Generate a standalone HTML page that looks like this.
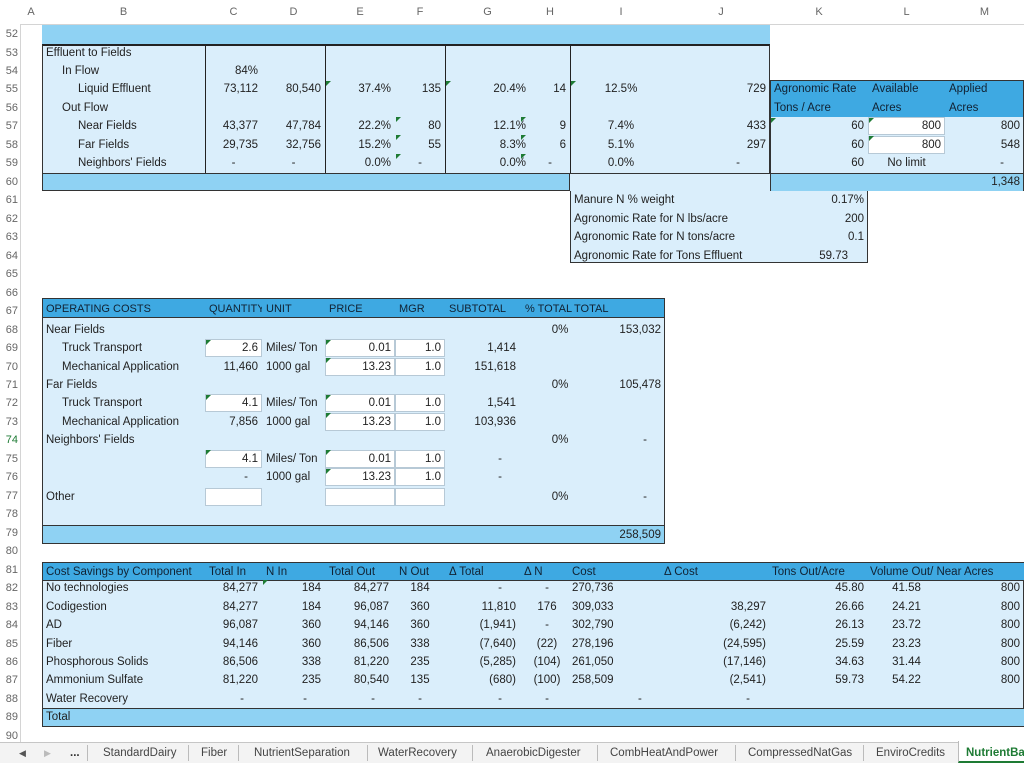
<!DOCTYPE html>
<html><head><meta charset="utf-8"><style>
*{margin:0;padding:0;box-sizing:border-box}
body{width:1024px;height:763px;overflow:hidden;background:#fff;font-family:"Liberation Sans",Arial,sans-serif;font-size:11.5px;color:#222;position:relative}
.a{position:absolute}
.c{position:absolute;height:18px;line-height:18px;white-space:nowrap;overflow:hidden;padding:0 4px}
.R{text-align:right}.C{text-align:center}
.hd{color:#666;text-align:center;font-size:11px;line-height:25px;top:0;height:25px}
.rn{left:0;width:20px;color:#666;font-size:11px;text-align:right;padding-right:2px;height:18px;line-height:18px}
.w{position:absolute;background:#fff;border:1px solid #b7c9d6;height:18px}
.lb{background:#daeefb}
.bar{background:#8fd2f3}
.hb{background:#3ea9e2}
.vl{position:absolute;width:1px;background:#222}
.tri{position:absolute;width:0;height:0;border-top:5px solid #1e7b34;border-right:5px solid transparent}
</style></head><body>
<!-- column headers -->
<div class="a" style="left:0;top:0;width:1024px;height:25px;border-bottom:1px solid #d4d4d4"></div>
<div class="a" style="left:0;top:0;width:20px;height:25px;background:#fff"></div>
<div class="c hd" style="left:20px;width:22px">A</div>
<div class="c hd" style="left:42px;width:163px">B</div>
<div class="c hd" style="left:205px;width:57px">C</div>
<div class="c hd" style="left:262px;width:63px">D</div>
<div class="c hd" style="left:325px;width:70px">E</div>
<div class="c hd" style="left:395px;width:50px">F</div>
<div class="c hd" style="left:445px;width:85px">G</div>
<div class="c hd" style="left:530px;width:40px">H</div>
<div class="c hd" style="left:570px;width:102px">I</div>
<div class="c hd" style="left:672px;width:98px">J</div>
<div class="c hd" style="left:770px;width:98px">K</div>
<div class="c hd" style="left:868px;width:77px">L</div>
<div class="c hd" style="left:945px;width:79px">M</div>
<div class="a" style="left:20px;top:25px;width:1px;height:717px;background:#d4d4d4"></div>
<!-- row numbers -->
<div class="c rn" style="top:25px">52</div><div class="c rn" style="top:43.5px">53</div><div class="c rn" style="top:62px">54</div><div class="c rn" style="top:80.4px">55</div><div class="c rn" style="top:99px">56</div><div class="c rn" style="top:117.4px">57</div><div class="c rn" style="top:135.8px">58</div><div class="c rn" style="top:154.3px">59</div><div class="c rn" style="top:172.8px">60</div><div class="c rn" style="top:191.2px">61</div><div class="c rn" style="top:209.7px">62</div><div class="c rn" style="top:228.2px">63</div><div class="c rn" style="top:246.6px">64</div><div class="c rn" style="top:265.1px">65</div><div class="c rn" style="top:283.6px">66</div><div class="c rn" style="top:302.1px">67</div><div class="c rn" style="top:320.5px">68</div><div class="c rn" style="top:339px">69</div><div class="c rn" style="top:357.5px">70</div><div class="c rn" style="top:375.9px">71</div><div class="c rn" style="top:394.4px">72</div><div class="c rn" style="top:412.9px">73</div><div class="c rn" style="top:431.3px;color:#1e7b34">74</div><div class="c rn" style="top:449.8px">75</div><div class="c rn" style="top:468.3px">76</div><div class="c rn" style="top:486.8px">77</div><div class="c rn" style="top:505.2px">78</div><div class="c rn" style="top:523.7px">79</div><div class="c rn" style="top:542.2px">80</div><div class="c rn" style="top:560.6px">81</div><div class="c rn" style="top:579.1px">82</div><div class="c rn" style="top:597.6px">83</div><div class="c rn" style="top:616px">84</div><div class="c rn" style="top:634.5px">85</div><div class="c rn" style="top:653px">86</div><div class="c rn" style="top:671.4px">87</div><div class="c rn" style="top:689.9px">88</div><div class="c rn" style="top:708.4px">89</div><div class="c rn" style="top:726.9px">90</div>

<!-- BLOCK 1 -->
<div class="a bar" style="left:42px;top:25px;width:728px;height:18.5px"></div>
<div class="a lb" style="left:42px;top:43.5px;width:728px;height:129.3px;border-top:2px solid #222;border-left:1px solid #333;border-right:1px solid #333"></div>
<div class="a bar" style="left:42px;top:172.8px;width:528px;height:18.4px;border:1px solid #333;border-top:1px solid #333"></div>
<div class="vl" style="left:205px;top:44px;height:129px"></div>
<div class="vl" style="left:325px;top:44px;height:129px"></div>
<div class="vl" style="left:445px;top:44px;height:129px"></div>
<div class="vl" style="left:570px;top:44px;height:218px"></div>
<!-- manure box -->
<div class="a lb" style="left:570px;top:172.8px;width:298px;height:90px;border:1px solid #333;border-top:none"></div>
<div class="a lb" style="left:570px;top:172.8px;width:200px;height:18.4px;border-top:1px solid #333"></div>
<!-- K-M block -->
<div class="a lb" style="left:770px;top:80.4px;width:254px;height:111px;border:1px solid #333"></div>
<div class="a hb" style="left:771px;top:81px;width:252px;height:36px"></div>
<div class="a bar" style="left:771px;top:172.8px;width:252px;height:18px;border-top:1px solid #333"></div>
<div class="w" style="left:868px;top:117.4px;width:77px"></div>
<div class="w" style="left:868px;top:135.8px;width:77px"></div>

<div class="c" style="left:42px;top:43.5px;width:163px">Effluent to Fields</div>
<div class="c" style="left:58px;top:62px;width:147px">In Flow</div>
<div class="c" style="left:74px;top:80.4px;width:131px">Liquid Effluent</div>
<div class="c" style="left:58px;top:99px;width:147px">Out Flow</div>
<div class="c" style="left:74px;top:117.4px;width:131px">Near Fields</div>
<div class="c" style="left:74px;top:135.8px;width:131px">Far Fields</div>
<div class="c" style="left:74px;top:154.3px;width:131px">Neighbors' Fields</div>

<div class="c R" style="left:205px;top:62px;width:57px">84%</div>
<div class="c R" style="left:205px;top:80.4px;width:57px">73,112</div>
<div class="c R" style="left:205px;top:117.4px;width:57px">43,377</div>
<div class="c R" style="left:205px;top:135.8px;width:57px">29,735</div>
<div class="c C" style="left:205px;top:154.3px;width:57px">-</div>
<div class="c R" style="left:262px;top:80.4px;width:63px">80,540</div>
<div class="c R" style="left:262px;top:117.4px;width:63px">47,784</div>
<div class="c R" style="left:262px;top:135.8px;width:63px">32,756</div>
<div class="c C" style="left:262px;top:154.3px;width:63px">-</div>

<div class="c R" style="left:325px;top:80.4px;width:70px">37.4%</div>
<div class="c R" style="left:325px;top:117.4px;width:70px">22.2%</div>
<div class="c R" style="left:325px;top:135.8px;width:70px">15.2%</div>
<div class="c R" style="left:325px;top:154.3px;width:70px">0.0%</div>
<div class="c R" style="left:395px;top:80.4px;width:50px">135</div>
<div class="c R" style="left:395px;top:117.4px;width:50px">80</div>
<div class="c R" style="left:395px;top:135.8px;width:50px">55</div>
<div class="c C" style="left:395px;top:154.3px;width:50px">-</div>
<div class="c R" style="left:445px;top:80.4px;width:85px">20.4%</div>
<div class="c R" style="left:445px;top:117.4px;width:85px">12.1%</div>
<div class="c R" style="left:445px;top:135.8px;width:85px">8.3%</div>
<div class="c R" style="left:445px;top:154.3px;width:85px">0.0%</div>
<div class="c R" style="left:530px;top:80.4px;width:40px">14</div>
<div class="c R" style="left:530px;top:117.4px;width:40px">9</div>
<div class="c R" style="left:530px;top:135.8px;width:40px">6</div>
<div class="c C" style="left:530px;top:154.3px;width:40px">-</div>
<div class="c C" style="left:570px;top:80.4px;width:102px">12.5%</div>
<div class="c C" style="left:570px;top:117.4px;width:102px">7.4%</div>
<div class="c C" style="left:570px;top:135.8px;width:102px">5.1%</div>
<div class="c C" style="left:570px;top:154.3px;width:102px">0.0%</div>
<div class="c R" style="left:672px;top:80.4px;width:98px">729</div>
<div class="c R" style="left:672px;top:117.4px;width:98px">433</div>
<div class="c R" style="left:672px;top:135.8px;width:98px">297</div>
<div class="c R" style="left:672px;top:154.3px;width:98px;padding-right:30px">-</div>

<div class="c" style="left:770px;top:80.4px;width:98px;color:#123">Agronomic Rate</div>
<div class="c" style="left:770px;top:99px;width:98px;color:#123">Tons / Acre</div>
<div class="c" style="left:868px;top:80.4px;width:77px;color:#123">Available</div>
<div class="c" style="left:868px;top:99px;width:77px;color:#123">Acres</div>
<div class="c" style="left:945px;top:80.4px;width:79px;color:#123">Applied</div>
<div class="c" style="left:945px;top:99px;width:79px;color:#123">Acres</div>
<div class="c R" style="left:770px;top:117.4px;width:98px">60</div>
<div class="c R" style="left:770px;top:135.8px;width:98px">60</div>
<div class="c R" style="left:770px;top:154.3px;width:98px">60</div>
<div class="c R" style="left:868px;top:117.4px;width:77px">800</div>
<div class="c R" style="left:868px;top:135.8px;width:77px">800</div>
<div class="c C" style="left:868px;top:154.3px;width:77px">No limit</div>
<div class="c R" style="left:945px;top:117.4px;width:79px">800</div>
<div class="c R" style="left:945px;top:135.8px;width:79px">548</div>
<div class="c R" style="left:945px;top:154.3px;width:79px;padding-right:20px">-</div>
<div class="c R" style="left:945px;top:172.8px;width:79px">1,348</div>

<div class="c" style="left:570px;top:191.2px;width:200px">Manure N % weight</div>
<div class="c" style="left:570px;top:209.7px;width:200px">Agronomic Rate for N lbs/acre</div>
<div class="c" style="left:570px;top:228.2px;width:200px">Agronomic Rate for N tons/acre</div>
<div class="c" style="left:570px;top:246.6px;width:200px">Agronomic Rate for Tons Effluent</div>
<div class="c R" style="left:770px;top:191.2px;width:98px">0.17%</div>
<div class="c R" style="left:770px;top:209.7px;width:98px">200</div>
<div class="c R" style="left:770px;top:228.2px;width:98px">0.1</div>
<div class="c R" style="left:770px;top:246.6px;width:98px;padding-right:20px">59.73</div>

<div class="tri" style="left:326px;top:81px"></div><div class="tri" style="left:446px;top:81px"></div><div class="tri" style="left:571px;top:81px"></div>
<div class="tri" style="left:771px;top:118px"></div><div class="tri" style="left:869px;top:118px"></div><div class="tri" style="left:869px;top:136px"></div>
<div class="tri" style="left:396px;top:117px"></div><div class="tri" style="left:396px;top:135px"></div><div class="tri" style="left:396px;top:154px"></div>
<div class="tri" style="left:521px;top:117px"></div><div class="tri" style="left:521px;top:135px"></div><div class="tri" style="left:521px;top:154px"></div>

<!-- BLOCK 2 -->
<div class="a lb" style="left:42px;top:298px;width:623px;height:246px;border:1px solid #333"></div>
<div class="a hb" style="left:43px;top:299px;width:621px;height:19px;border-bottom:1px solid #333"></div>
<div class="a bar" style="left:43px;top:525px;width:621px;height:18px;border-top:1.5px solid #333"></div>
<div class="c" style="left:42px;top:300px;width:163px;font-size:11px;color:#123">OPERATING COSTS</div>
<div class="c" style="left:205px;top:300px;width:57px;font-size:11px;color:#123">QUANTITY</div>
<div class="c" style="left:262px;top:300px;width:63px;font-size:11px;color:#123">UNIT</div>
<div class="c" style="left:325px;top:300px;width:70px;font-size:11px;color:#123">PRICE</div>
<div class="c" style="left:395px;top:300px;width:50px;font-size:11px;color:#123">MGR</div>
<div class="c" style="left:445px;top:300px;width:80px;font-size:11px;color:#123">SUBTOTAL</div>
<div class="c" style="left:521px;top:300px;width:52px;font-size:11px;color:#123">% TOTAL</div>
<div class="c" style="left:570px;top:300px;width:60px;font-size:11px;color:#123">TOTAL</div>

<div class="w" style="left:205px;top:339px;width:57px"></div><div class="w" style="left:325px;top:339px;width:70px"></div><div class="w" style="left:395px;top:339px;width:50px"></div>
<div class="w" style="left:325px;top:357.5px;width:70px"></div><div class="w" style="left:395px;top:357.5px;width:50px"></div>
<div class="w" style="left:205px;top:394.4px;width:57px"></div><div class="w" style="left:325px;top:394.4px;width:70px"></div><div class="w" style="left:395px;top:394.4px;width:50px"></div>
<div class="w" style="left:325px;top:412.9px;width:70px"></div><div class="w" style="left:395px;top:412.9px;width:50px"></div>
<div class="w" style="left:205px;top:449.8px;width:57px"></div><div class="w" style="left:325px;top:449.8px;width:70px"></div><div class="w" style="left:395px;top:449.8px;width:50px"></div>
<div class="w" style="left:325px;top:468.3px;width:70px"></div><div class="w" style="left:395px;top:468.3px;width:50px"></div>
<div class="w" style="left:205px;top:488px;width:57px"></div><div class="w" style="left:325px;top:488px;width:70px"></div><div class="w" style="left:395px;top:488px;width:50px"></div>
<div class="tri" style="left:206px;top:340px"></div><div class="tri" style="left:326px;top:340px"></div><div class="tri" style="left:326px;top:358px"></div>
<div class="tri" style="left:206px;top:395px"></div><div class="tri" style="left:326px;top:395px"></div><div class="tri" style="left:326px;top:413px"></div>
<div class="tri" style="left:206px;top:450px"></div><div class="tri" style="left:326px;top:450px"></div><div class="tri" style="left:326px;top:469px"></div>

<div class="c" style="left:42px;top:320.5px;width:163px">Near Fields</div>
<div class="c" style="left:58px;top:339px;width:147px">Truck Transport</div>
<div class="c" style="left:58px;top:357.5px;width:147px">Mechanical Application</div>
<div class="c" style="left:42px;top:375.9px;width:163px">Far Fields</div>
<div class="c" style="left:58px;top:394.4px;width:147px">Truck Transport</div>
<div class="c" style="left:58px;top:412.9px;width:147px">Mechanical Application</div>
<div class="c" style="left:42px;top:431.3px;width:163px">Neighbors' Fields</div>
<div class="c" style="left:42px;top:488px;width:163px">Other</div>

<div class="c R" style="left:205px;top:339px;width:57px">2.6</div>
<div class="c R" style="left:205px;top:357.5px;width:57px">11,460</div>
<div class="c R" style="left:205px;top:394.4px;width:57px">4.1</div>
<div class="c R" style="left:205px;top:412.9px;width:57px">7,856</div>
<div class="c R" style="left:205px;top:449.8px;width:57px">4.1</div>
<div class="c R" style="left:205px;top:468.3px;width:57px;padding-right:14px">-</div>
<div class="c" style="left:262px;top:339px;width:63px">Miles/ Ton</div>
<div class="c" style="left:262px;top:357.5px;width:63px">1000 gal</div>
<div class="c" style="left:262px;top:394.4px;width:63px">Miles/ Ton</div>
<div class="c" style="left:262px;top:412.9px;width:63px">1000 gal</div>
<div class="c" style="left:262px;top:449.8px;width:63px">Miles/ Ton</div>
<div class="c" style="left:262px;top:468.3px;width:63px">1000 gal</div>
<div class="c R" style="left:325px;top:339px;width:70px">0.01</div>
<div class="c R" style="left:325px;top:357.5px;width:70px">13.23</div>
<div class="c R" style="left:325px;top:394.4px;width:70px">0.01</div>
<div class="c R" style="left:325px;top:412.9px;width:70px">13.23</div>
<div class="c R" style="left:325px;top:449.8px;width:70px">0.01</div>
<div class="c R" style="left:325px;top:468.3px;width:70px">13.23</div>
<div class="c R" style="left:395px;top:339px;width:50px">1.0</div>
<div class="c R" style="left:395px;top:357.5px;width:50px">1.0</div>
<div class="c R" style="left:395px;top:394.4px;width:50px">1.0</div>
<div class="c R" style="left:395px;top:412.9px;width:50px">1.0</div>
<div class="c R" style="left:395px;top:449.8px;width:50px">1.0</div>
<div class="c R" style="left:395px;top:468.3px;width:50px">1.0</div>
<div class="c R" style="left:445px;top:339px;width:75px">1,414</div>
<div class="c R" style="left:445px;top:357.5px;width:75px">151,618</div>
<div class="c R" style="left:445px;top:394.4px;width:75px">1,541</div>
<div class="c R" style="left:445px;top:412.9px;width:75px">103,936</div>
<div class="c R" style="left:445px;top:449.8px;width:75px;padding-right:18px">-</div>
<div class="c R" style="left:445px;top:468.3px;width:75px;padding-right:18px">-</div>
<div class="c C" style="left:530px;top:320.5px;width:60px">0%</div>
<div class="c C" style="left:530px;top:375.9px;width:60px">0%</div>
<div class="c C" style="left:530px;top:431.3px;width:60px">0%</div>
<div class="c C" style="left:530px;top:488px;width:60px">0%</div>
<div class="c R" style="left:590px;top:320.5px;width:75px">153,032</div>
<div class="c R" style="left:590px;top:375.9px;width:75px">105,478</div>
<div class="c R" style="left:590px;top:431.3px;width:75px;padding-right:18px">-</div>
<div class="c R" style="left:590px;top:488px;width:75px;padding-right:18px">-</div>
<div class="c R" style="left:590px;top:526px;width:75px">258,509</div>

<!-- BLOCK 3 -->
<div class="a lb" style="left:42px;top:562px;width:982px;height:165px;border:1px solid #333"></div>
<div class="a hb" style="left:43px;top:563px;width:981px;height:18px;border-bottom:1px solid #333"></div>
<div class="a bar" style="left:43px;top:708px;width:981px;height:18px;border-top:1.5px solid #333"></div>
<div class="c" style="left:42px;top:563px;width:163px;color:#123">Cost Savings by Component</div>
<div class="c" style="left:205px;top:563px;width:57px;color:#123">Total In</div>
<div class="c" style="left:262px;top:563px;width:63px;color:#123">N In</div>
<div class="c" style="left:325px;top:563px;width:70px;color:#123">Total Out</div>
<div class="c" style="left:395px;top:563px;width:50px;color:#123">N Out</div>
<div class="c" style="left:445px;top:563px;width:85px;color:#123">Δ Total</div>
<div class="c" style="left:520px;top:563px;width:50px;color:#123">Δ N</div>
<div class="c" style="left:568px;top:563px;width:100px;color:#123">Cost</div>
<div class="c" style="left:660px;top:563px;width:100px;color:#123">Δ Cost</div>
<div class="c" style="left:768px;top:563px;width:100px;color:#123">Tons Out/Acre</div>
<div class="c" style="left:866px;top:563px;width:158px;color:#123">Volume Out/ Near Acres</div>

<div class="c" style="left:42px;top:579.1px;width:163px">No technologies</div>
<div class="c" style="left:42px;top:597.6px;width:163px">Codigestion</div>
<div class="c" style="left:42px;top:616px;width:163px">AD</div>
<div class="c" style="left:42px;top:634.5px;width:163px">Fiber</div>
<div class="c" style="left:42px;top:653px;width:163px">Phosphorous Solids</div>
<div class="c" style="left:42px;top:671.4px;width:163px">Ammonium Sulfate</div>
<div class="c" style="left:42px;top:689.9px;width:163px">Water Recovery</div>
<div class="c" style="left:42px;top:708.4px;width:163px">Total</div>

<div class="c R" style="left:195px;top:579.1px;width:67px">84,277</div>
<div class="c R" style="left:195px;top:597.6px;width:67px">84,277</div>
<div class="c R" style="left:195px;top:616px;width:67px">96,087</div>
<div class="c R" style="left:195px;top:634.5px;width:67px">94,146</div>
<div class="c R" style="left:195px;top:653px;width:67px">86,506</div>
<div class="c R" style="left:195px;top:671.4px;width:67px">81,220</div>
<div class="c R" style="left:195px;top:689.9px;width:67px;padding-right:18px">-</div>
<div class="tri" style="left:263px;top:580px"></div>
<div class="c R" style="left:262px;top:579.1px;width:63px">184</div>
<div class="c R" style="left:262px;top:597.6px;width:63px">184</div>
<div class="c R" style="left:262px;top:616px;width:63px">360</div>
<div class="c R" style="left:262px;top:634.5px;width:63px">360</div>
<div class="c R" style="left:262px;top:653px;width:63px">338</div>
<div class="c R" style="left:262px;top:671.4px;width:63px">235</div>
<div class="c R" style="left:262px;top:689.9px;width:63px;padding-right:18px">-</div>
<div class="c R" style="left:325px;top:579.1px;width:68px">84,277</div>
<div class="c R" style="left:325px;top:597.6px;width:68px">96,087</div>
<div class="c R" style="left:325px;top:616px;width:68px">94,146</div>
<div class="c R" style="left:325px;top:634.5px;width:68px">86,506</div>
<div class="c R" style="left:325px;top:653px;width:68px">81,220</div>
<div class="c R" style="left:325px;top:671.4px;width:68px">80,540</div>
<div class="c R" style="left:325px;top:689.9px;width:68px;padding-right:18px">-</div>
<div class="c C" style="left:395px;top:579.1px;width:50px">184</div>
<div class="c C" style="left:395px;top:597.6px;width:50px">360</div>
<div class="c C" style="left:395px;top:616px;width:50px">360</div>
<div class="c C" style="left:395px;top:634.5px;width:50px">338</div>
<div class="c C" style="left:395px;top:653px;width:50px">235</div>
<div class="c C" style="left:395px;top:671.4px;width:50px">135</div>
<div class="c C" style="left:395px;top:689.9px;width:50px">-</div>
<div class="c R" style="left:445px;top:579.1px;width:75px;padding-right:18px">-</div>
<div class="c R" style="left:445px;top:597.6px;width:75px">11,810</div>
<div class="c R" style="left:445px;top:616px;width:75px">(1,941)</div>
<div class="c R" style="left:445px;top:634.5px;width:75px">(7,640)</div>
<div class="c R" style="left:445px;top:653px;width:75px">(5,285)</div>
<div class="c R" style="left:445px;top:671.4px;width:75px">(680)</div>
<div class="c R" style="left:445px;top:689.9px;width:75px;padding-right:18px">-</div>
<div class="c C" style="left:522px;top:579.1px;width:50px">-</div>
<div class="c C" style="left:522px;top:597.6px;width:50px">176</div>
<div class="c C" style="left:522px;top:616px;width:50px">-</div>
<div class="c C" style="left:522px;top:634.5px;width:50px">(22)</div>
<div class="c C" style="left:522px;top:653px;width:50px">(104)</div>
<div class="c C" style="left:522px;top:671.4px;width:50px">(100)</div>
<div class="c C" style="left:522px;top:689.9px;width:50px">-</div>
<div class="c" style="left:568px;top:579.1px;width:100px">270,736</div>
<div class="c" style="left:568px;top:597.6px;width:100px">309,033</div>
<div class="c" style="left:568px;top:616px;width:100px">302,790</div>
<div class="c" style="left:568px;top:634.5px;width:100px">278,196</div>
<div class="c" style="left:568px;top:653px;width:100px">261,050</div>
<div class="c" style="left:568px;top:671.4px;width:100px">258,509</div>
<div class="c" style="left:568px;top:689.9px;width:100px;padding-left:70px">-</div>
<div class="c R" style="left:672px;top:597.6px;width:98px">38,297</div>
<div class="c R" style="left:672px;top:616px;width:98px">(6,242)</div>
<div class="c R" style="left:672px;top:634.5px;width:98px">(24,595)</div>
<div class="c R" style="left:672px;top:653px;width:98px">(17,146)</div>
<div class="c R" style="left:672px;top:671.4px;width:98px">(2,541)</div>
<div class="c R" style="left:672px;top:689.9px;width:98px;padding-right:20px">-</div>
<div class="c R" style="left:770px;top:579.1px;width:98px">45.80</div>
<div class="c R" style="left:770px;top:597.6px;width:98px">26.66</div>
<div class="c R" style="left:770px;top:616px;width:98px">26.13</div>
<div class="c R" style="left:770px;top:634.5px;width:98px">25.59</div>
<div class="c R" style="left:770px;top:653px;width:98px">34.63</div>
<div class="c R" style="left:770px;top:671.4px;width:98px">59.73</div>
<div class="c C" style="left:868px;top:579.1px;width:77px">41.58</div>
<div class="c C" style="left:868px;top:597.6px;width:77px">24.21</div>
<div class="c C" style="left:868px;top:616px;width:77px">23.72</div>
<div class="c C" style="left:868px;top:634.5px;width:77px">23.23</div>
<div class="c C" style="left:868px;top:653px;width:77px">31.44</div>
<div class="c C" style="left:868px;top:671.4px;width:77px">54.22</div>
<div class="c R" style="left:945px;top:579.1px;width:79px">800</div>
<div class="c R" style="left:945px;top:597.6px;width:79px">800</div>
<div class="c R" style="left:945px;top:616px;width:79px">800</div>
<div class="c R" style="left:945px;top:634.5px;width:79px">800</div>
<div class="c R" style="left:945px;top:653px;width:79px">800</div>
<div class="c R" style="left:945px;top:671.4px;width:79px">800</div>

<!-- tab bar -->
<div class="a" style="left:0;top:742px;width:1024px;height:21px;background:#f3f3f3;border-top:1px solid #c6c6c6"></div>
<div class="c" style="left:15px;top:744px;width:15px;color:#555;font-size:9px">◀</div>
<div class="c" style="left:40px;top:744px;width:15px;color:#bbb;font-size:9px">▶</div>
<div class="c" style="left:66px;top:744px;width:20px;color:#333;font-weight:bold">...</div>
<div class="a" style="left:87px;top:745px;width:1px;height:16px;background:#bbb"></div>
<div class="c" style="left:99px;top:744px;width:90px;color:#444">StandardDairy</div>
<div class="a" style="left:188px;top:745px;width:1px;height:16px;background:#bbb"></div>
<div class="c" style="left:197px;top:744px;width:40px;color:#444">Fiber</div>
<div class="a" style="left:238px;top:745px;width:1px;height:16px;background:#bbb"></div>
<div class="c" style="left:250px;top:744px;width:115px;color:#444">NutrientSeparation</div>
<div class="a" style="left:367px;top:745px;width:1px;height:16px;background:#bbb"></div>
<div class="c" style="left:374px;top:744px;width:100px;color:#444">WaterRecovery</div>
<div class="a" style="left:472px;top:745px;width:1px;height:16px;background:#bbb"></div>
<div class="c" style="left:482px;top:744px;width:115px;color:#444">AnaerobicDigester</div>
<div class="a" style="left:597px;top:745px;width:1px;height:16px;background:#bbb"></div>
<div class="c" style="left:606px;top:744px;width:125px;color:#444">CombHeatAndPower</div>
<div class="a" style="left:735px;top:745px;width:1px;height:16px;background:#bbb"></div>
<div class="c" style="left:744px;top:744px;width:125px;color:#444">CompressedNatGas</div>
<div class="a" style="left:863px;top:745px;width:1px;height:16px;background:#bbb"></div>
<div class="a" style="left:958px;top:741px;width:66px;height:22px;background:#fff;border-left:1px solid #bbb;border-bottom:2px solid #1e7b34"></div>
<div class="c" style="left:872px;top:744px;width:85px;color:#444">EnviroCredits</div>
<div class="c" style="left:962px;top:744px;width:62px;color:#1e7b34;font-weight:bold">NutrientBalance</div>
</body></html>
